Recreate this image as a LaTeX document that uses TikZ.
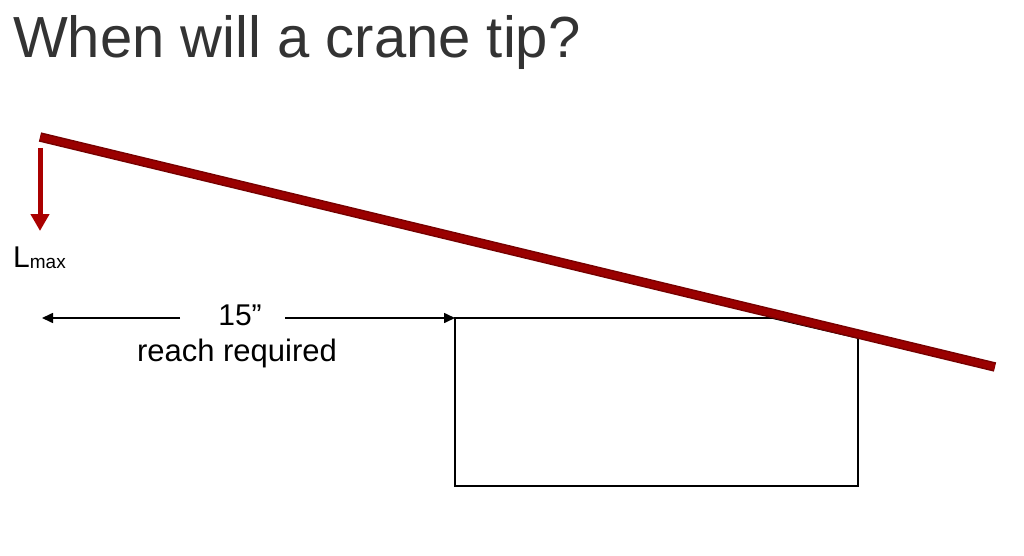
\documentclass[tikz,border=0pt]{standalone}
\usepackage{fontspec}
\setmainfont{Liberation Sans}
\usetikzlibrary{arrows.meta}
\definecolor{beamred}{HTML}{9A0000}
\definecolor{beamdark}{HTML}{760000}
\definecolor{loadred}{HTML}{AA0000}
\definecolor{titlegray}{HTML}{333333}

\begin{document}
\begin{tikzpicture}[x = 1pt, y = -1pt,
  label/.style = {inner sep = 0pt, font = \fontsize{30}{36}\selectfont},
  dimline/.style = {line width = 1.6pt, -{Triangle[length = 11pt, width = 10pt]}}]
\useasboundingbox (0,0) rectangle (1024,556);

\node [anchor = base west, inner sep = 0pt, text = titlegray,
  font = \fontsize{58}{70}\selectfont] (title) at (13, 58) {When will a crane tip?};

% block under the boom
\coordinate (b1) at (455, 318);
\coordinate (b2) at (772, 318);
\coordinate (b3) at (858, 338);
\coordinate (b4) at (858, 486);
\coordinate (b5) at (455, 486);
\draw [line width = 1.6pt] (b2) -- (b1) -- (b5) -- (b4) -- (b3) -- cycle;

% boom
\coordinate (tipL) at (40, 137);
\coordinate (tipR) at (995, 367);
\draw [beamdark, line width = 9.5pt] (tipL) -- (tipR);
\draw [beamred, line width = 6.5pt, shorten <= 0.5pt, shorten >= 0.5pt] (tipL) -- (tipR);

% load
\coordinate (loadtop) at (40, 148);
\coordinate (loadend) at (40, 231);
\draw [loadred, line width = 5pt, -{Triangle[length = 17pt, width = 18pt]}] (loadtop) -- (loadend);
\node [label, anchor = base west] (lmax) at (13, 267)
  {L\raisebox{-1pt}{\fontsize{19}{22}\selectfont max}};

% reach
\node [label, anchor = base] (reach) at (240, 325) {15”};
\node [label, font = \fontsize{31}{36}\selectfont, anchor = base] (req) at (237, 361) {reach required};
\coordinate (dimL) at (42, 318);
\coordinate (gapL) at (180, 318);
\coordinate (gapR) at (285, 318);
\draw [dimline] (gapL) -- (dimL);
\draw [dimline] (gapR) -- (b1);
\end{tikzpicture}
\end{document}
